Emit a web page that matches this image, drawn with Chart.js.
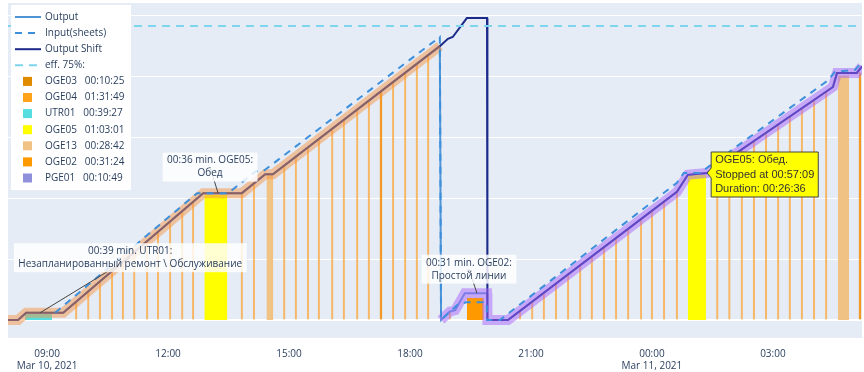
<!DOCTYPE html>
<html>
<head>
<meta charset="utf-8">
<script src="https://cdn.jsdelivr.net/npm/chart.js@4.4.0/dist/chart.umd.min.js"></script>
<style>
  html, body { margin: 0; padding: 0; background: #fff; }
</style>
</head>
<body>
<canvas id="chart" width="864" height="372"></canvas>
<script>
/* Hours are counted from Mar 10, 2021 00:00, values are sheets */
const xMin = 8.03, xMax = 29.21;

/* Output line (first shift, then the next shift after the reset) */
const outputHours  = [8.03, 8.28, 8.48, 9.40, 12.87, 13.83, 14.41, 14.60, 18.74, 18.77, 18.99, 19.12, 19.36, 19.91, 19.92, 20.43, 24.62, 24.89, 25.37, 28.49, 28.59, 29.08, 29.21];
const outputValues = [0, 0, 12, 12, 208, 208, 239, 239, 449, 0, 14, 16, 44, 44, 0, 0, 210, 238, 241, 382, 405, 405, 416];
const firstShiftEnd = 9;   // index where the second run begins

/* Output per shift */
const shiftHours  = [8.03, 8.28, 8.48, 9.40, 12.87, 13.83, 14.41, 14.60, 18.74, 18.94, 19.06, 19.41, 19.91, 19.92, 20.43, 24.62, 24.89, 25.37, 28.49, 28.59, 29.08, 29.21];
const shiftValues = [0, 0, 12, 12, 208, 208, 239, 239, 449, 461, 464, 495, 495, 0, 0, 210, 238, 241, 382, 405, 405, 416];

/* Input(sheets) */
const inputHours  = [9.20, 12.72, 13.49, 14.18, 14.36, 18.74, 18.77, 19.18, 19.40, 19.90, 19.91, 20.23, 24.62, 24.79, 25.19, 28.37, 28.54, 29.04, 29.21];
const inputValues = [12, 208, 208, 244, 244, 464, 0, 25, 29, 29, 0, 0, 225, 241, 241, 393, 407, 410, 423];

/* eff. 75% */
const effHours  = [8.03, 29.21];
const effValues = [482, 482];

/* short stops */
const oge04Hours  = [9.72, 10.02, 10.31, 10.61, 10.88, 11.16, 11.48, 11.75, 12.05, 12.35, 12.62, 13.83, 14.13, 14.88, 15.17, 15.47, 15.74, 16.07, 16.36, 16.69, 16.98, 17.58, 17.88, 18.17, 18.45,
                     18.99, 20.73, 21.03, 21.32, 21.62, 21.92, 22.22, 22.51, 22.81, 23.11, 23.41, 23.73, 24.00, 24.30, 24.62, 25.62, 25.92, 26.23, 26.53, 26.83, 27.13, 27.42, 27.72, 28.02, 28.32];
const oge04Values = [30, 47, 64, 81, 96, 111, 130, 145, 162, 179, 194, 208, 224, 253, 268, 283, 297, 313, 328, 345, 360, 390, 405, 420, 434,
                     14, 15, 30, 45, 60, 75, 89, 104, 119, 134, 149, 165, 179, 194, 210, 252, 266, 280, 293, 307, 320, 334, 347, 361, 374];
const oge03Hours  = [17.28, 29.16];
const oge03Values = [375, 405];

/* long stops */
const stopCodes  = ['UTR01', 'OGE05', 'OGE13', 'OGE02', 'OGE05', 'OGE13'];
const stopStart  = [8.45, 12.90, 14.44, 19.41, 24.89, 28.61];
const stopEnd    = [9.12, 13.47, 14.61, 19.83, 25.34, 28.89];
const stopValues = [10, 205, 238, 36, 238, 401];

/* legend of stop codes */
const legendCodes = ['OGE03', 'OGE04', 'UTR01', 'OGE05', 'OGE13', 'OGE02', 'PGE01'];
const legendTimes = ['00:10:25', '01:31:49', '00:39:27', '01:03:01', '00:28:42', '00:31:24', '00:10:49'];

/* x axis */
const tickHours  = [9, 12, 15, 18, 21, 24, 27];
const tickLabels = ['09:00', '12:00', '15:00', '18:00', '21:00', '00:00', '03:00'];
const tickDates  = ['Mar 10, 2021', '', '', '', '', 'Mar 11, 2021', ''];

/* notes */
const noteHours  = [8.83, 13.24, 19.66];
const noteValues = [12, 208, 44];
const noteTexts  = [['00:39 min. UTR01:', 'Незапланированный ремонт \\ Обслуживание'],
                    ['00:36 min. OGE05:', 'Обед'],
                    ['00:31 min. OGE02:', 'Простой линии']];
const hoverHour  = 25.37;
const hoverValue = 241;
const hoverText  = ['OGE05: Обед.', 'Stopped at 00:57:09', 'Duration: 00:26:36'];

/* ---- styles ---- */
const codeColors = {
  OGE03: '#e08a00', OGE04: '#ffa31a', UTR01: '#55dde0', OGE05: '#ffff00',
  OGE13: '#f0c384', OGE02: '#ff9900', PGE01: '#8f8fdc'
};
const noteOffsets = [[90, -55], [-8, -26], [-8, -24]];
const FONT = '"Open Sans", sans-serif';

function pts(xs, ys) { return xs.map((x, i) => ({x: x, y: ys[i]})); }

const datasets = [
  {label: 'Input(sheets)', type: 'line', data: pts(inputHours, inputValues), borderColor: '#3d8fdc',
   borderWidth: 2, borderDash: [7, 6], pointRadius: 0, fill: false, order: 0, legendRank: 1},
  {label: 'band1', type: 'line', data: pts(outputHours.slice(0, firstShiftEnd), outputValues.slice(0, firstShiftEnd)),
   borderColor: 'rgba(245,150,70,0.5)', borderWidth: 10, pointRadius: 0, fill: false, order: 1},
  {label: 'band2', type: 'line', data: pts(outputHours.slice(firstShiftEnd), outputValues.slice(firstShiftEnd)),
   borderColor: 'rgba(170,100,250,0.5)', borderWidth: 10, pointRadius: 0, fill: false, order: 1},
  {label: 'eff. 75%:', type: 'line', data: pts(effHours, effValues), borderColor: '#7fd4ee',
   borderWidth: 2, borderDash: [8, 6], pointRadius: 0, fill: false, order: 2, legendRank: 3},
  {label: 'Output Shift', type: 'line', data: pts(shiftHours, shiftValues), borderColor: '#1c2a8a',
   borderWidth: 2, pointRadius: 0, fill: false, order: 4, legendRank: 2},
  {label: 'Output', type: 'line', data: pts(outputHours, outputValues), borderColor: '#4f94d6',
   borderWidth: 2, pointRadius: 0, fill: false, order: 5, legendRank: 0},
  {label: 'OGE04', type: 'bar', data: pts(oge04Hours, oge04Values), backgroundColor: 'rgba(255,160,40,0.7)',
   barThickness: 1.3, grouped: false, order: 10},
  {label: 'OGE03', type: 'bar', data: pts(oge03Hours, oge03Values), backgroundColor: 'rgba(245,140,0,0.85)',
   barThickness: 1.6, grouped: false, order: 10}
];

/* wide stops drawn as filled blocks down to zero */
stopCodes.forEach((code, i) => {
  datasets.push({
    label: code, type: 'line',
    data: [{x: stopStart[i], y: stopValues[i]}, {x: stopEnd[i], y: stopValues[i]}],
    backgroundColor: codeColors[code], borderWidth: 0, pointRadius: 0,
    fill: 'origin', order: 12
  });
});

/* plot background */
const plotBg = {
  id: 'plotBg',
  beforeDraw(chart) {
    const a = chart.chartArea, ctx = chart.ctx;
    ctx.save();
    ctx.fillStyle = '#e5ecf6';
    ctx.fillRect(a.left, a.top, a.right - a.left, a.bottom - a.top);
    ctx.restore();
  }
};

/* notes with arrows and the hover label */
const notes = {
  id: 'notes',
  afterDatasetsDraw(chart) {
    const ctx = chart.ctx, xs = chart.scales.x, ys = chart.scales.y;
    ctx.save();
    ctx.font = '10px ' + FONT;
    ctx.textAlign = 'center';
    ctx.textBaseline = 'middle';
    noteTexts.forEach((lines, i) => {
      const px = xs.getPixelForValue(noteHours[i]);
      const py = ys.getPixelForValue(noteValues[i]);
      const cx = px + noteOffsets[i][0], cy = py + noteOffsets[i][1];
      ctx.strokeStyle = '#444';
      ctx.lineWidth = 1;
      ctx.beginPath();
      ctx.moveTo(px, py);
      ctx.lineTo(cx, cy);
      ctx.stroke();
      const w = Math.max(...lines.map(t => ctx.measureText(t).width)) + 9;
      const h = lines.length * 13 + 3;
      ctx.fillStyle = 'rgba(255,255,255,0.82)';
      ctx.fillRect(cx - w / 2, cy - h / 2, w, h);
      ctx.fillStyle = '#2a3f5f';
      lines.forEach((t, j) => ctx.fillText(t, cx, cy - h / 2 + 8 + j * 13));
    });

    /* hover label */
    const hx = xs.getPixelForValue(hoverHour), hy = ys.getPixelForValue(hoverValue);
    ctx.font = '11px "Liberation Sans", Arial, sans-serif';
    const bw = Math.max(...hoverText.map(t => ctx.measureText(t).width)) + 8;
    const bh = 45, bx = hx + 4, by = hy - 21;
    ctx.beginPath();
    ctx.moveTo(hx, hy);
    ctx.lineTo(bx, hy - 5);
    ctx.lineTo(bx, by);
    ctx.lineTo(bx + bw, by);
    ctx.lineTo(bx + bw, by + bh);
    ctx.lineTo(bx, by + bh);
    ctx.lineTo(bx, hy + 5);
    ctx.closePath();
    ctx.fillStyle = '#ffff00';
    ctx.fill();
    ctx.strokeStyle = '#444';
    ctx.lineWidth = 1;
    ctx.stroke();
    ctx.fillStyle = '#333';
    ctx.textAlign = 'left';
    hoverText.forEach((t, j) => ctx.fillText(t, bx + 4, by + 8 + j * 14.5));
    ctx.restore();
  }
};

/* boxed legend in the top-left corner */
const boxLegend = {
  id: 'boxLegend',
  afterDraw(chart) {
    const ctx = chart.ctx;
    const lines = chart.data.datasets.filter(d => d.legendRank !== undefined)
      .sort((a, b) => a.legendRank - b.legendRank);
    ctx.save();
    ctx.fillStyle = '#fff';
    ctx.fillRect(11, 5, 120, 185);
    ctx.font = '10px ' + FONT;
    ctx.textBaseline = 'middle';
    ctx.textAlign = 'left';
    let y = 17;
    lines.forEach(d => {
      ctx.strokeStyle = d.borderColor;
      ctx.lineWidth = 2;
      ctx.setLineDash(d.borderDash || []);
      ctx.beginPath();
      ctx.moveTo(15, y);
      ctx.lineTo(41, y);
      ctx.stroke();
      ctx.setLineDash([]);
      ctx.fillStyle = '#2a3f5f';
      ctx.fillText(d.label, 45, y);
      y += 16.1;
    });
    legendCodes.forEach((code, i) => {
      ctx.fillStyle = codeColors[code];
      ctx.fillRect(23, y - 4.5, 9, 9);
      ctx.fillStyle = '#2a3f5f';
      ctx.fillText(code + '   ' + legendTimes[i], 45, y);
      y += 16.1;
    });
    ctx.restore();
  }
};

new Chart(document.getElementById('chart'), {
  type: 'line',
  data: {datasets: datasets},
  options: {
    responsive: false,
    animation: false,
    devicePixelRatio: 1,
    layout: {padding: {left: 8, right: 2, top: 3, bottom: 0}},
    plugins: {legend: {display: false}, tooltip: {enabled: false}},
    scales: {
      x: {
        type: 'linear', min: xMin, max: xMax, offset: false,
        grid: {display: false, offset: false}, border: {display: false},
        afterBuildTicks: s => { s.ticks = tickHours.map(v => ({value: v})); },
        afterFit: s => { s.height = 34; },
        ticks: {
          color: '#2a3f5f', font: {size: 10, family: FONT}, padding: 2,
          maxRotation: 0, autoSkip: false,
          callback: v => {
            const i = tickHours.indexOf(v);
            if (i < 0) return '';
            return tickDates[i] ? [tickLabels[i], tickDates[i]] : tickLabels[i];
          }
        }
      },
      y: {
        type: 'linear', min: -29.5, max: 519.7,
        afterBuildTicks: s => { s.ticks = [0, 100, 200, 300, 400, 500].map(v => ({value: v})); },
        afterFit: s => { s.width = 0; },
        ticks: {display: false},
        border: {display: false},
        grid: {color: '#ffffff', lineWidth: c => (c.tick && c.tick.value === 0 ? 2 : 1), drawTicks: false}
      }
    }
  },
  plugins: [plotBg, notes, boxLegend]
});
</script>
</body>
</html>
